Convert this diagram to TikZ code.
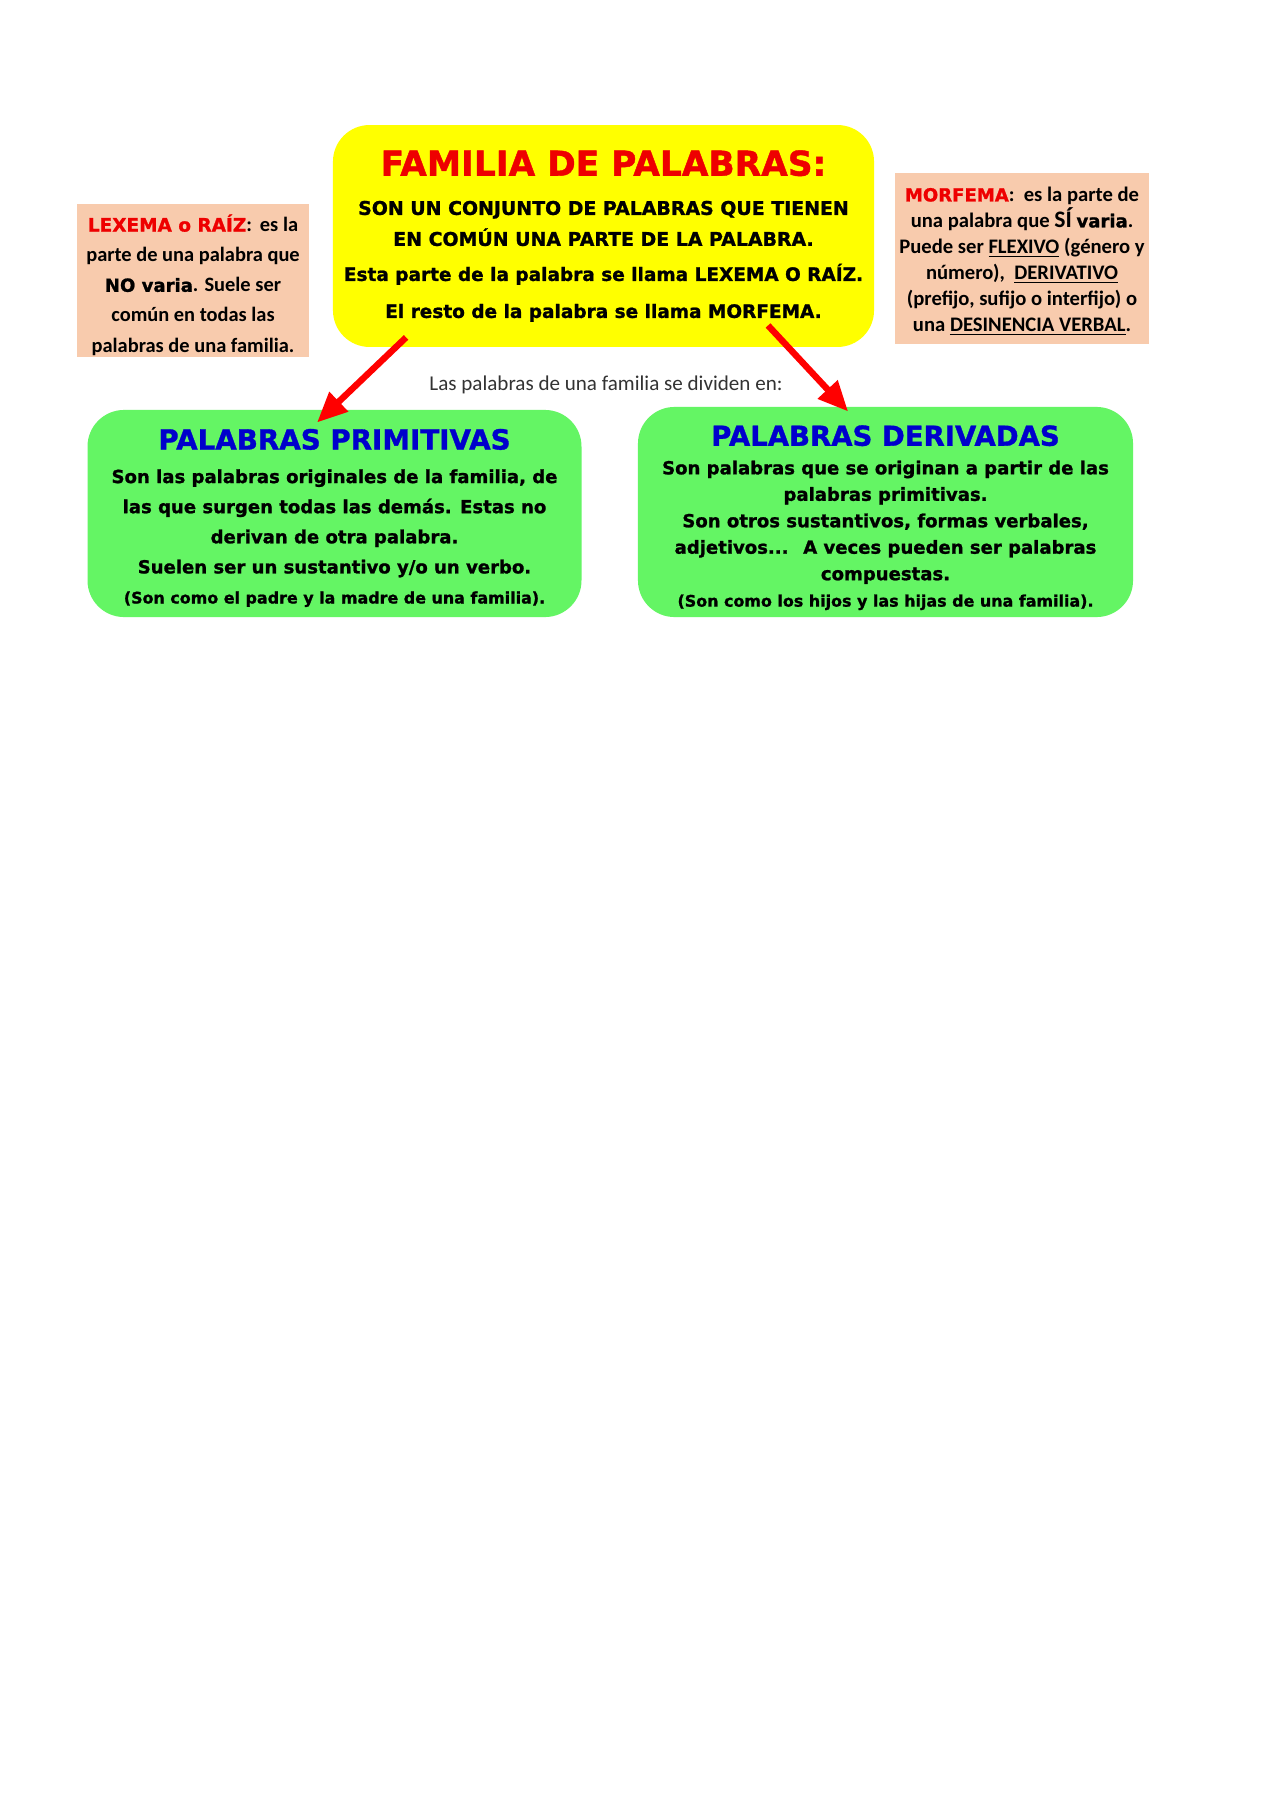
\documentclass[tikz,border=0pt]{standalone}
\usepackage{fontspec}
\setmainfont{Carlito}
\newfontfamily\heavyfont{DejaVu Sans}[BoldFont={DejaVu Sans Bold}, BoldFeatures={FakeBold=1.2}]
\usetikzlibrary{arrows.meta}
\definecolor{famyellow}{HTML}{FFFF00}
\definecolor{peach}{HTML}{F8CBAD}
\definecolor{famgreen}{HTML}{64F564}
\definecolor{titlered}{HTML}{EE0000}
\definecolor{titleblue}{HTML}{0000CC}

\begin{document}
\begin{tikzpicture}[x=0.465pt, y=-0.465pt,
  famarrow/.style={draw=red, line width=3pt, -{Triangle[length=14pt,width=12pt]}},
  roundbox/.style={rounded corners=17pt, inner sep=0pt, align=center},
  notebox/.style={fill=peach, inner sep=0pt, align=center}
]
\useasboundingbox (0,0) rectangle (1280,1811);
\fill[white] (0,0) rectangle (1280,1811);

% Main box
\node[roundbox, fill=famyellow, minimum width=251.6pt, minimum height=103.2pt,
  font=\heavyfont\bfseries\fontsize{8.6}{14.4}\selectfont] (fam) at (603.5,236)
  {{\color{titlered}\fontsize{16}{18}\selectfont FAMILIA DE PALABRAS:}\\[3.8pt]
   \fontsize{8.8}{14.4}\selectfont SON UN CONJUNTO DE PALABRAS QUE TIENEN\\
   \fontsize{8.8}{14.4}\selectfont EN COMÚN UNA PARTE DE LA PALABRA.\\[1.9pt]
   Esta parte de la palabra se llama LEXEMA O RAÍZ.\\[2.8pt]
   El resto de la palabra se llama MORFEMA.};

% Side notes
\node[notebox, minimum width=107.9pt, minimum height=71.1pt,
  font=\bfseries\fontsize{9.5}{14}\selectfont] (lex) at (193,280.5)
  {\rule{0pt}{12pt}{\heavyfont\fontsize{8.6}{14}\selectfont\color{titlered}LEXEMA o RAÍZ}: \,es la\\
   parte de una palabra que\\
   {\heavyfont\fontsize{8.4}{14}\selectfont NO varia}. Suele ser\\
   común en todas las\\
   palabras de una familia.};

\node[notebox, minimum width=118.1pt, minimum height=79.5pt,
  font=\bfseries\fontsize{9.6}{12.1}\selectfont] (mor) at (1022,258.5)
  {\rule{0pt}{9.5pt}{\heavyfont\fontsize{8.4}{12.1}\selectfont\color{titlered}MORFEMA}: \ es la parte de\\
   una palabra que {\fontsize{11}{12}\selectfont SÍ} {\heavyfont\fontsize{8.4}{12.1}\selectfont varia}.\\
   Puede ser \underline{FLEXIVO} (género y\\
   número), \ \underline{DERIVATIVO}\\
   (prefijo, sufijo o interfijo) o\\
   una \underline{DESINENCIA VERBAL}.};

\node[font=\fontsize{9.8}{11}\selectfont, text=black!80] (div) at (606,385)
  {Las palabras de una familia se dividen en:};

% Two kinds
\node[roundbox, fill=famgreen, minimum width=229.7pt, minimum height=96.3pt,
  font=\heavyfont\bfseries\fontsize{8.4}{14}\selectfont] (prim) at (334.5,513.5)
  {\rule{0pt}{13.7pt}{\color{titleblue}\fontsize{12.9}{14}\selectfont PALABRAS PRIMITIVAS}\\[1.6pt]
   Son las palabras originales de la familia, de\\
   las que surgen todas las demás. Estas no\\
   derivan de otra palabra.\\
   Suelen ser un sustantivo y/o un verbo.\\
   {\fontsize{7.4}{14}\selectfont (Son como el padre y la madre de una familia).}};

\node[roundbox, fill=famgreen, minimum width=230.2pt, minimum height=97.7pt,
  font=\heavyfont\bfseries\fontsize{8.4}{12.3}\selectfont] (deriv) at (885.5,512)
  {\rule{0pt}{14.8pt}{\color{titleblue}\fontsize{12.8}{14}\selectfont PALABRAS DERIVADAS}\\[1pt]
   Son palabras que se originan a partir de las\\
   palabras primitivas.\\
   Son otros sustantivos, formas verbales,\\
   adjetivos... \ A veces pueden ser palabras\\
   compuestas.\\
   {\fontsize{7.4}{12.3}\selectfont (Son como los hijos y las hijas de una familia).}};

% Arrows
\draw[famarrow] ([xshift=-91.8pt,yshift=4.65pt]fam.south) -- ([xshift=-8.1pt,yshift=-6pt]prim.north);
\draw[famarrow] ([xshift=76.5pt,yshift=10.2pt]fam.south) -- ([xshift=-17.4pt,yshift=-2.3pt]deriv.north);

\end{tikzpicture}
\end{document}
